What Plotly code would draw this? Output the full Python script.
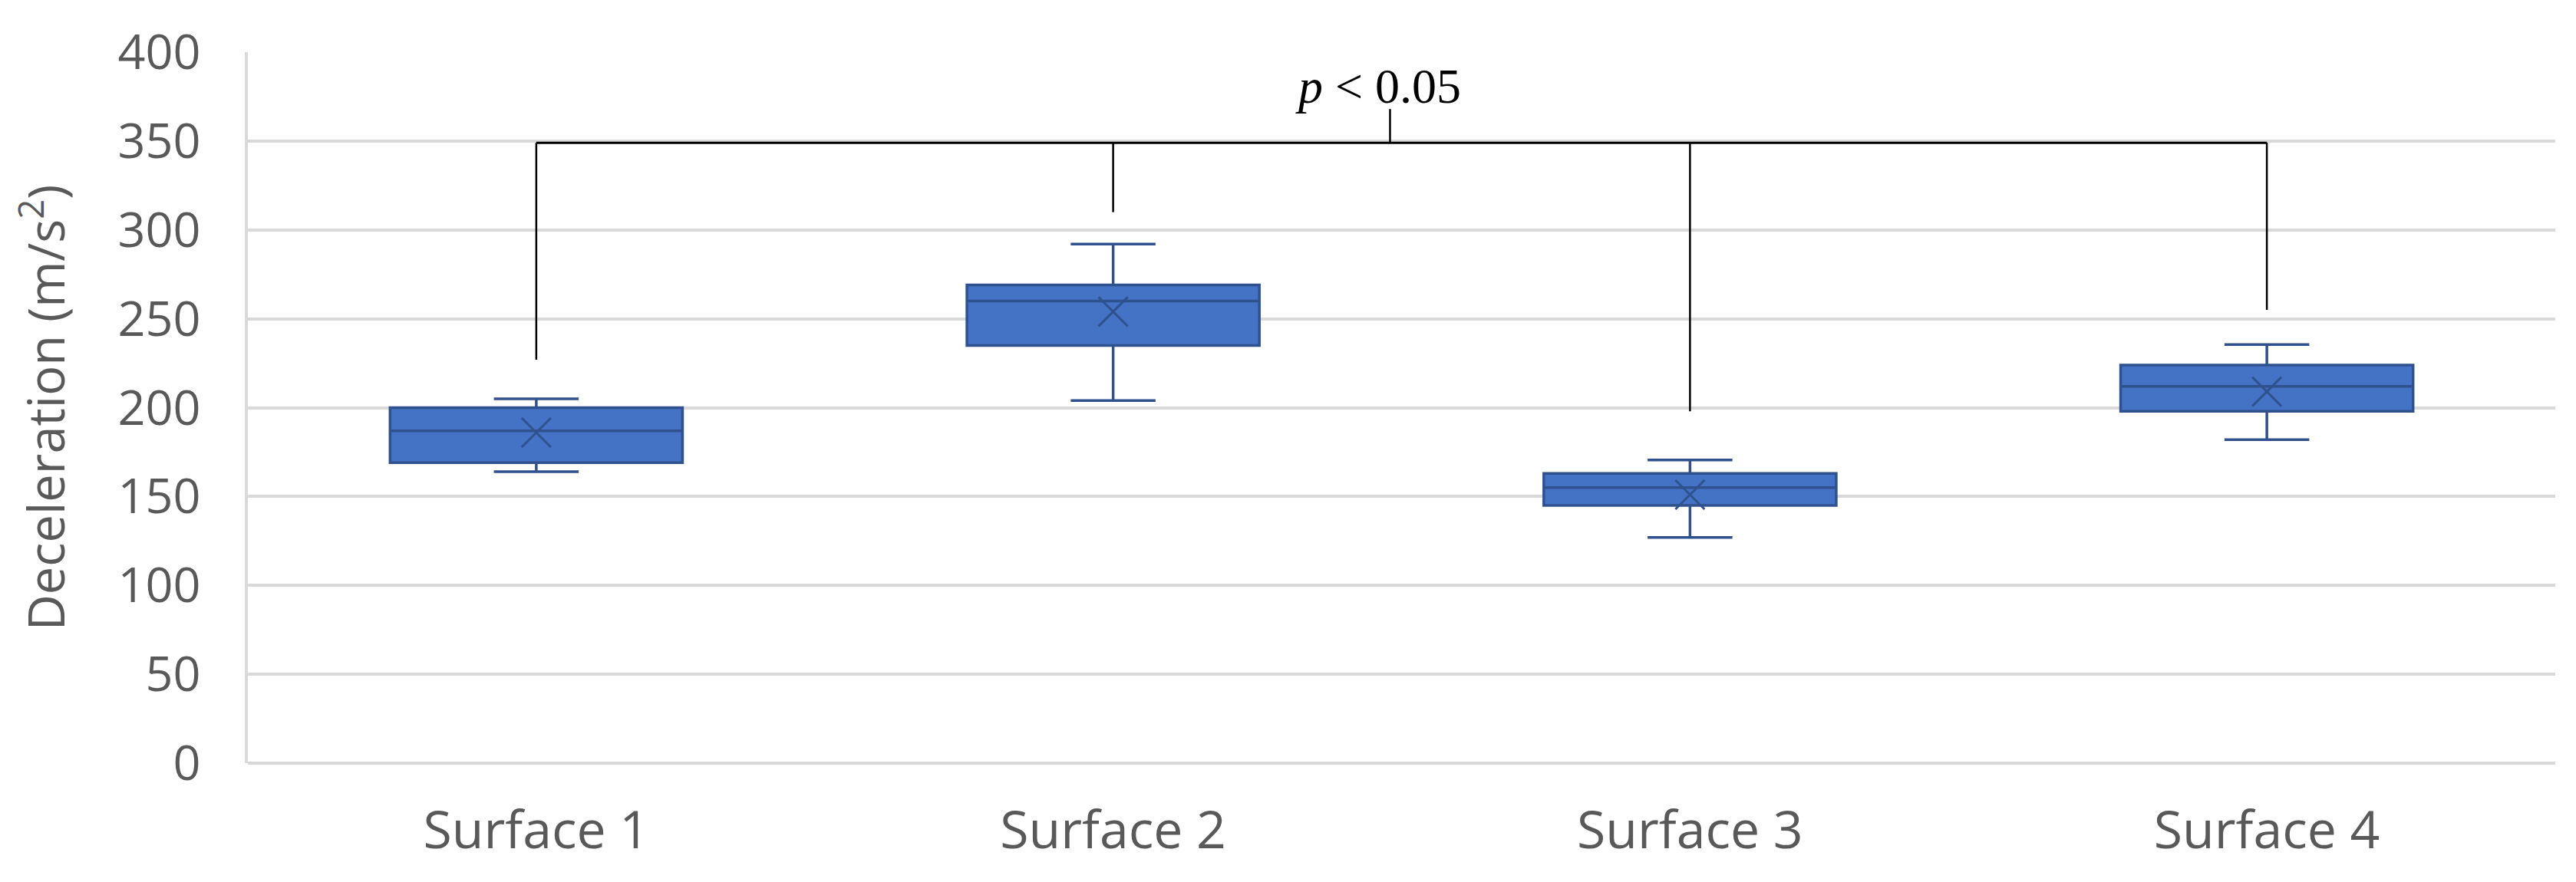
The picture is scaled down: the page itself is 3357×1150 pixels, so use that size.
import plotly.graph_objects as go

# Box summary values (m/s^2)
categories = ['Surface 1', 'Surface 2', 'Surface 3', 'Surface 4']
lower_whisker = [164, 204, 127, 182]
q1_vals = [169, 235, 145, 198]
median_vals = [187, 260, 155, 212]
q3_vals = [200, 269, 163, 224]
upper_whisker = [205, 292, 170.5, 235.5]
mean_vals = [186, 254, 151, 209]

# significance bracket
bracket_level = 349
bracket_drop_ends = [227, 310, 198, 255]
bracket_top = 368
p_label = '<i>p</i> < 0.05'

fig = go.Figure()

fig.add_trace(go.Box(
    x=categories,
    lowerfence=lower_whisker,
    q1=q1_vals,
    median=median_vals,
    q3=q3_vals,
    upperfence=upper_whisker,
    fillcolor='#4472C4',
    line=dict(color='#2F528F', width=3.5),
    whiskerwidth=0.29,
    width=0.507,
    showlegend=False,
    hoverinfo='skip'
))

# mean markers (x)
fig.add_trace(go.Scatter(
    x=categories,
    y=mean_vals,
    mode='markers',
    marker=dict(symbol='x-thin', size=38, line=dict(color='#2F528F', width=3)),
    showlegend=False,
    hoverinfo='skip'
))

# bracket lines
for i, end in enumerate(bracket_drop_ends):
    fig.add_shape(type='line', xref='x', yref='y', x0=i, x1=i, y0=end, y1=bracket_level,
                  line=dict(color='black', width=2.5))
fig.add_shape(type='line', xref='x', yref='y', x0=0, x1=len(categories) - 1,
              y0=bracket_level, y1=bracket_level, line=dict(color='black', width=3))
fig.add_shape(type='line', xref='x', yref='y', x0=1.48, x1=1.48,
              y0=bracket_level, y1=bracket_top, line=dict(color='black', width=2.5))

fig.add_annotation(x=1.46, y=bracket_top, xref='x', yref='y', text=p_label,
                   showarrow=False, yanchor='bottom', yshift=-8,
                   font=dict(family='Liberation Serif', size=64, color='black'))

fig.update_layout(
    width=3357,
    height=1150,
    margin=dict(l=315, r=35, t=60, b=163),
    plot_bgcolor='white',
    paper_bgcolor='white',
    font=dict(family='Open Sans', size=62, color='#595959'),
    xaxis=dict(
        type='category',
        categoryorder='array',
        categoryarray=categories,
        range=[-0.5, 3.5],
        showgrid=False,
        zeroline=False,
        showline=False,
        ticks='',
        ticklabelstandoff=42,
        tickfont=dict(size=68, color='#595959')
    ),
    yaxis=dict(
        range=[0, 400],
        dtick=50,
        showgrid=True,
        gridcolor='#D9D9D9',
        gridwidth=3.5,
        zeroline=True,
        zerolinecolor='#D9D9D9',
        zerolinewidth=3.5,
        showline=True,
        linecolor='#D9D9D9',
        linewidth=3.5,
        ticks='',
        ticklabelstandoff=45,
        tickfont=dict(size=63, color='#595959'),
        title=dict(text='Deceleration (m/s<sup>2</sup>)', standoff=50,
                   font=dict(size=65, color='#595959'))
    )
)

fig.write_html("out.html")
